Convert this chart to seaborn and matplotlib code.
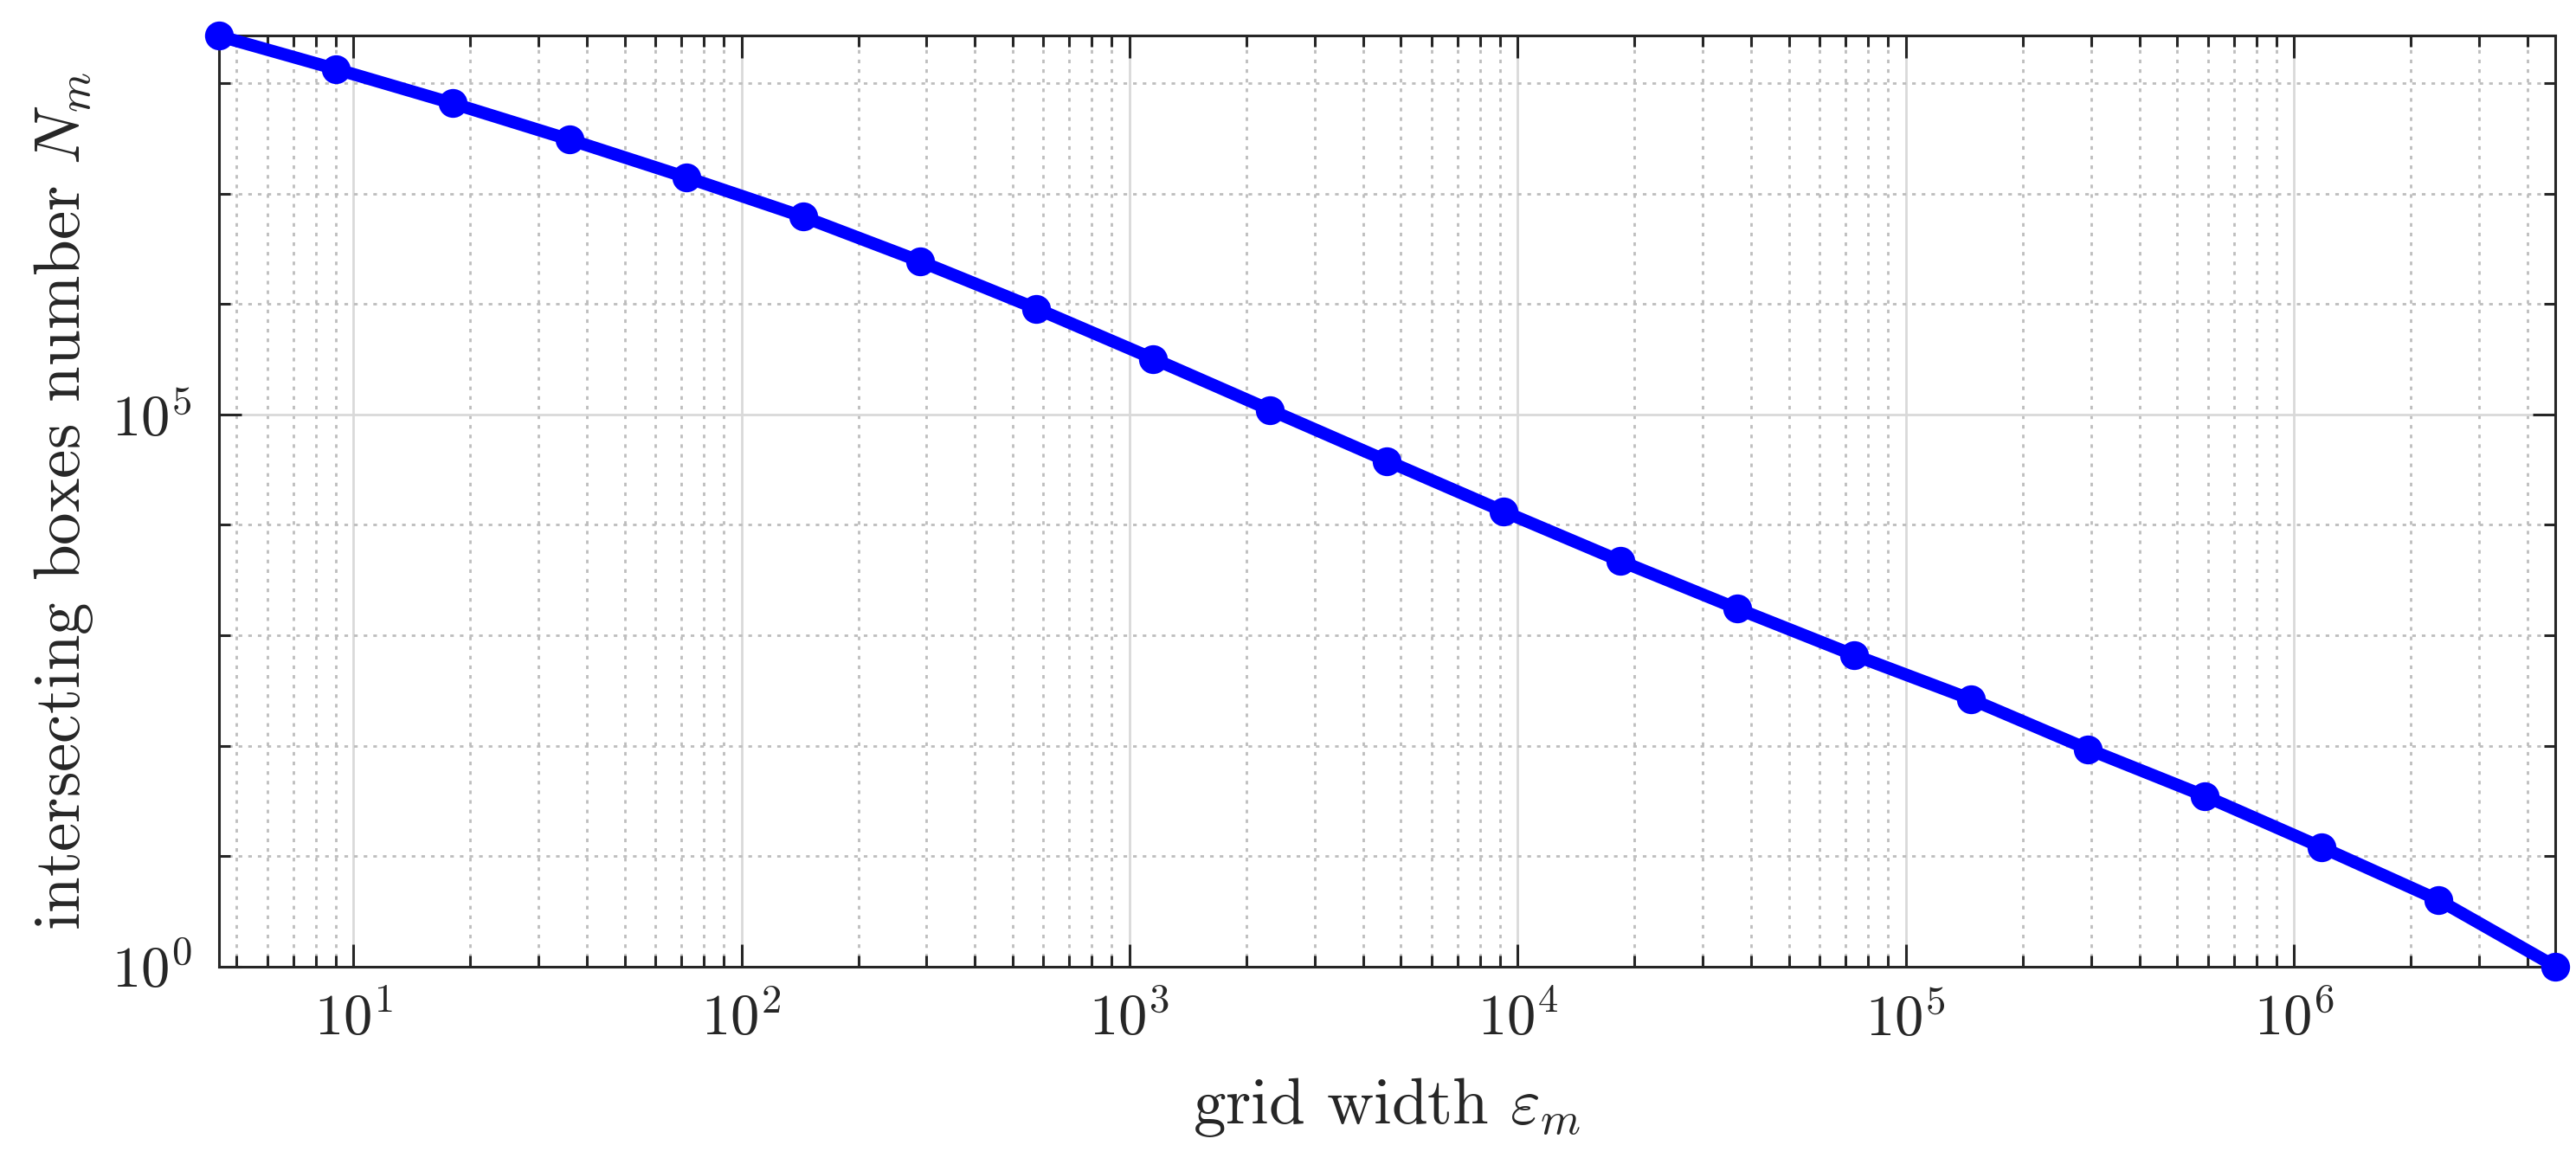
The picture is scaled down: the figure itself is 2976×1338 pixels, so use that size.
import numpy as np
import pandas as pd
import matplotlib
matplotlib.use("Agg")
import matplotlib.pyplot as plt
import matplotlib.ticker as mticker
import seaborn as sns

# box counting data (grid width vs. boxes hit)
grid_width = [4.5, 9, 18, 36, 72, 144, 288, 576, 1152, 2304, 4608, 9216,
              18432, 36864, 73728, 147456, 294912, 589824, 1179648,
              2359296, 4718592]
boxes_number = [2.69e8, 1.35e8, 6.6e7, 3.1e7, 1.41e7, 6.2e6, 2.45e6, 9.1e5,
                3.2e5, 1.1e5, 3.8e4, 1.32e4, 4.7e3, 1.74e3, 660, 263, 93,
                35, 12, 4, 1]

y_major_ticks = [1e0, 1e5]
y_minor_ticks = [1e1, 1e2, 1e3, 1e4, 1e6, 1e7, 1e8]

df = pd.DataFrame({"eps": grid_width, "N": boxes_number})

sns.set_theme(style="ticks")
plt.rcParams["font.family"] = "serif"
plt.rcParams["font.serif"] = ["cmr10"]
plt.rcParams["mathtext.fontset"] = "cm"
plt.rcParams["axes.unicode_minus"] = False
plt.rcParams["axes.formatter.use_mathtext"] = True

axis_col = "#262626"

fig = plt.figure(figsize=(14.88, 6.69), dpi=200)
ax = fig.add_axes([0.0849, 0.1654, 0.9071, 0.8036])

sns.lineplot(data=df, x="eps", y="N", ax=ax, color=(0, 0, 1),
             linewidth=5.2, marker="o", markersize=12, markeredgewidth=0,
             sort=False, zorder=5, clip_on=False)

ax.set_xscale("log")
ax.set_yscale("log")
ax.set_xlim(grid_width[0], grid_width[-1])
ax.set_ylim(boxes_number[-1], boxes_number[0])

# x: decades + 2..9 minor
ax.xaxis.set_major_locator(mticker.LogLocator(base=10, numticks=20))
ax.xaxis.set_minor_locator(mticker.LogLocator(base=10, subs=np.arange(2, 10), numticks=20))
ax.xaxis.set_minor_formatter(mticker.NullFormatter())
# y: labels only every 5 decades, minor ticks at the other decades
ax.yaxis.set_major_locator(mticker.FixedLocator(y_major_ticks))
ax.yaxis.set_minor_locator(mticker.FixedLocator(y_minor_ticks))
ax.yaxis.set_minor_formatter(mticker.NullFormatter())

fmt = mticker.FuncFormatter(lambda v, p: r"$10^{%d}$" % int(round(np.log10(v))))
ax.xaxis.set_major_formatter(fmt)
ax.yaxis.set_major_formatter(fmt)

ax.grid(True, which="major", color="#d9d9d9", linewidth=1.0, linestyle="-")
ax.grid(True, which="minor", color="#bdbdbd", linewidth=1.0, linestyle=(0, (1.5, 2.5)))
ax.set_axisbelow(True)

for s in ax.spines.values():
    s.set_visible(True)
    s.set_color(axis_col)
    s.set_linewidth(1.1)

ax.tick_params(which="both", direction="in", top=True, right=True,
               color=axis_col, width=1.1, labelcolor=axis_col)
ax.tick_params(which="major", length=9.5, labelsize=24, pad=11)
ax.tick_params(which="minor", length=4.7)

ax.set_xlabel(r"grid width $\varepsilon_m$", fontsize=27, color=axis_col, labelpad=12)
ax.set_ylabel(r"intersecting boxes number $N_m$", fontsize=27, color=axis_col, labelpad=7)

fig.savefig("out.png", dpi=200)
